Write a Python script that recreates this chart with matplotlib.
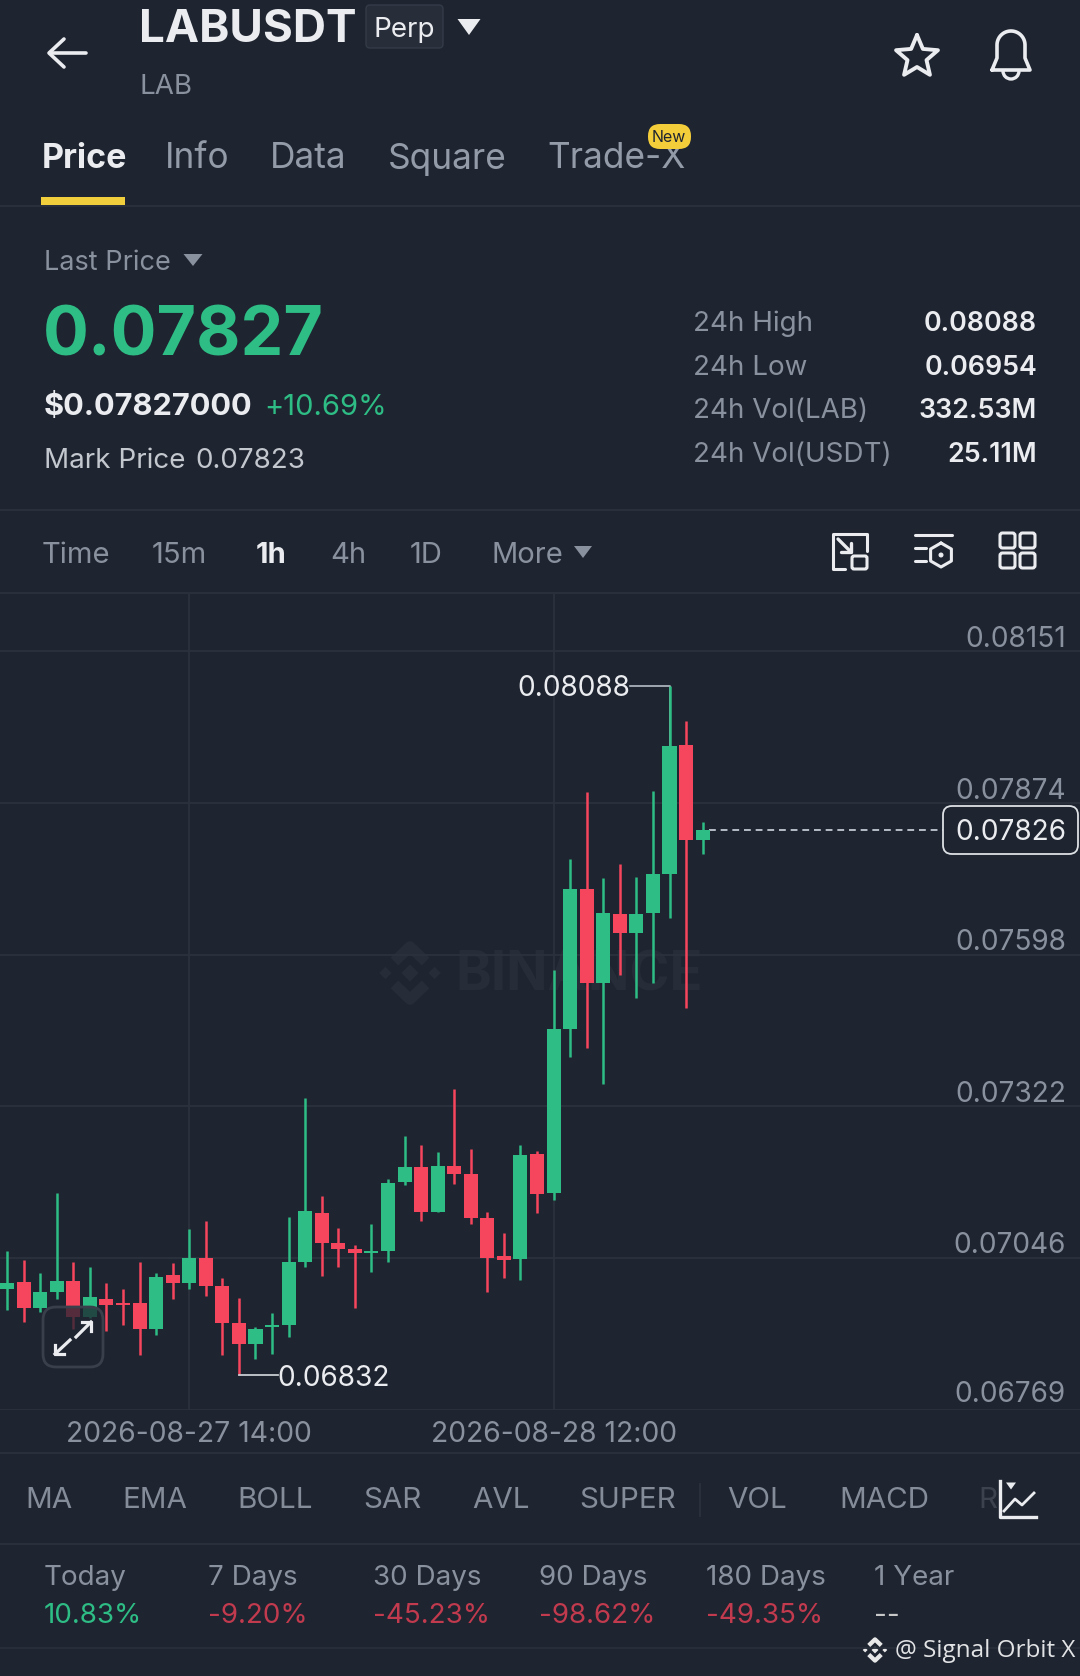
import numpy as np
import matplotlib
matplotlib.use("Agg")
import matplotlib.pyplot as plt
from matplotlib.patches import Rectangle, FancyBboxPatch, Polygon, Circle, Arc

plt.rcParams['font.family'] = ['Inter', 'DejaVu Sans']

# hourly candles
opens = [.06989, .07002, .06955, .06983, .07004, .06939, .06972, .06964, .06964, .06916, .07015,
         .07000, .07046, .06994, .06927, .06889, .06920, .06924, .07038, .07128, .07074, .07063,
         .07054, .07058, .07185, .07212, .07129, .07213, .07198, .07118, .07049, .07044, .07235,
         .07164, .07463, .07717, .07546, .07673, .07638, .07674, .07746, .07980, .07807]
closes = [.07001, .06955, .06984, .07004, .06938, .06974, .06961, .06960, .06917, .07011, .07000,
          .07046, .06994, .06927, .06890, .06916, .06923, .07038, .07132, .07074, .07063, .07054,
          .07059, .07183, .07212, .07130, .07213, .07198, .07118, .07046, .07043, .07234, .07162,
          .07462, .07717, .07546, .07674, .07638, .07673, .07746, .07979, .07807, .07826]
highs = [.07059, .07043, .07018, .07165, .07039, .07030, .07001, .06990, .07039, .07019, .07036,
         .07099, .07113, .07009, .06973, .06921, .06946, .07121, .07338, .07159, .07100, .07070,
         .07107, .07190, .07268, .07252, .07239, .07353, .07244, .07130, .07092, .07251, .07240,
         .07570, .07772, .07895, .07737, .07764, .07740, .07897, .08088, .08023, .07839]
lows = [.06952, .06929, .06948, .06971, .06916, .06936, .06913, .06924, .06869, .06905, .06972,
        .06989, .06977, .06869, .06832, .06862, .06871, .06902, .07029, .07013, .07029, .06954,
        .07021, .07039, .07179, .07114, .07129, .07181, .07107, .06983, .07010, .07006, .07127,
        .07151, .07411, .07428, .07363, .07561, .07519, .07546, .07665, .07501, .07781]

price_ticks = [0.08151, 0.07874, 0.07598, 0.07322, 0.07046, 0.06769]
time_idx = [11, 33]
time_labels = ['2026-08-27 14:00', '2026-08-28 12:00']
last_price = 0.07826
high_price = 0.08088
low_price = 0.06832
high_idx = 40
low_idx = 14

tabs = ['Price', 'Info', 'Data', 'Square', 'Trade-X']
tab_x = [42, 165, 270, 388, 547]
intervals = ['Time', '15m', '1h', '4h', '1D', 'More']
interval_x = [42, 152, 256, 330, 410, 491]
indicators = ['MA', 'EMA', 'BOLL', 'SAR', 'AVL', 'SUPER', 'VOL', 'MACD']
indicator_x = [25, 122, 237, 363, 472, 579, 727, 839]
stat_labels = ['24h High', '24h Low', '24h Vol(LAB)', '24h Vol(USDT)']
stat_values = ['0.08088', '0.06954', '332.53M', '25.11M']
stat_y = [321, 365, 408, 452]
perf_labels = ['Today', '7 Days', '30 Days', '90 Days', '180 Days', '1 Year']
perf_values = ['10.83%', '-9.20%', '-45.23%', '-98.62%', '-49.35%', '--']
perf_x = [44, 208, 373, 539, 706, 874]

BG = '#1E2430'
GREEN = '#2EBD85'
RED = '#F6465D'
GREY = '#8A919E'
LINE = '#2C323D'
WHITE = '#EAECEF'
W, H = 1080, 1676

fig = plt.figure(figsize=(W / 100, H / 100), dpi=100, facecolor=BG)

# faint exchange watermark sits behind the candles
bg = fig.add_axes([0, 0, 1, 1], facecolor='none', zorder=-1)
bg.set_xlim(0, W)
bg.set_ylim(H, 0)
bg.axis('off')

# price chart, full width
top, bottom = 594, 1410
ax = fig.add_axes([0, 1 - bottom / H, 1, (bottom - top) / H], facecolor='none', zorder=0)
ax.set_xlim((0 - 7.1) / 16.56, (W - 7.1) / 16.56)
ax.set_ylim(0.06769, 0.08255)
for s in ax.spines.values():
    s.set_visible(False)
ax.set_xticks(time_idx)
ax.set_yticks(price_ticks)
ax.tick_params(length=0, labelleft=False, labelbottom=False)
ax.grid(True, color=LINE, lw=1.3)
ax.set_axisbelow(True)

x = np.arange(len(opens))
o, c, hi, lo = map(np.array, (opens, closes, highs, lows))
cols = [GREEN if b >= a else RED for a, b in zip(o, c)]
ax.vlines(x, lo, hi, colors=cols, lw=1.8, zorder=3)
ax.bar(x, np.abs(c - o), bottom=np.minimum(o, c), width=0.85, color=cols, zorder=3)

for i, p in enumerate(price_ticks):
    ax.annotate(f'{p:.5f}', (1, p), xycoords=('axes fraction', 'data'), xytext=(-14, 15 if i == 5 else 12),
                textcoords='offset pixels', ha='right', va='center', color=GREY, fontsize=20.2, zorder=6)

# last price dashes and label
ax.plot([42.4, 56.5], [last_price, last_price], color='#B7BDC6', lw=1.4, ls=(0, (3.5, 2.5)), zorder=2)
ax.annotate(f'{last_price:.5f}', (1, last_price), xycoords=('axes fraction', 'data'), xytext=(-14, -3),
            textcoords='offset pixels', ha='right', va='center', color=WHITE, fontsize=20.2, zorder=8)

# high / low leaders
ax.plot([high_idx - 2.4, high_idx, high_idx], [high_price, high_price, closes[high_idx]], color='#B7BDC6', lw=1.2, zorder=2)
ax.plot([low_idx, low_idx + 2.35], [low_price, low_price], color='#C8CCD2', lw=1.3, zorder=4)
ax.annotate(f'{high_price:.5f}', (high_idx - 2.4, high_price), xytext=(0, -3), textcoords='offset pixels',
            ha='right', va='center', color=WHITE, fontsize=20.2, zorder=6)
ax.annotate(f'{low_price:.5f}', (low_idx + 2.35, low_price), xytext=(0, -3), textcoords='offset pixels',
            ha='left', va='center', color=WHITE, fontsize=20.2, zorder=6)

# overlay in pixel coordinates for the app furniture
ui = fig.add_axes([0, 0, 1, 1], facecolor='none', zorder=1)
ui.set_xlim(0, W)
ui.set_ylim(H, 0)
ui.axis('off')


def txt(px, py, s, size=20, color=GREY, ha='left', weight='normal', **kw):
    ui.text(px, py + 3, s, fontsize=size, color=color, ha=ha, va='center', weight=weight, **kw)


def hline(py, x0=0, x1=W, color=LINE, lw=1.3):
    ui.plot([x0, x1], [py, py], color=color, lw=lw, solid_capstyle='butt')


def stroke(xs, ys, color=WHITE, lw=2.4):
    ui.plot(xs, ys, color=color, lw=lw, solid_capstyle='round', solid_joinstyle='round')


def box(x0, y0, x1, y1, r=3, ec=WHITE, fc='none', lw=2.2, z=5):
    ui.add_patch(FancyBboxPatch((x0 + r, y0 + r), x1 - x0 - 2 * r, y1 - y0 - 2 * r,
                                boxstyle=f'round,pad={r},rounding_size={r}', ec=ec, fc=fc, lw=lw, zorder=z))


def tri(cx, cy, w, h, color=WHITE):
    ui.add_patch(Polygon([[cx - w / 2, cy - h / 2], [cx + w / 2, cy - h / 2], [cx, cy + h / 2]], fc=color, ec='none'))


def binance_mark(axis, cx, cy, s, color):
    for dx, k in [(0, .24), (-.82, .17), (.82, .17)]:
        pts = [[cx + dx * s, cy - k * 1.2 * s], [cx + (dx + k * 1.2) * s, cy],
               [cx + dx * s, cy + k * 1.2 * s], [cx + (dx - k * 1.2) * s, cy]]
        axis.add_patch(Polygon(pts, fc=color, ec='none', zorder=1))
    for sy in (-1, 1):
        axis.plot([cx - .52 * s, cx, cx + .52 * s], [cy + sy * .38 * s, cy + sy * .88 * s, cy + sy * .38 * s],
                  color=color, lw=s * .26, solid_capstyle='butt', zorder=1)


bg.text(455, 976, 'BINANCE', fontsize=39, color='#262C38', va='center', weight='bold')
binance_mark(bg, 410, 973, 30, '#262C38')

# header
stroke([86, 50], [53, 53], lw=2.6)
stroke([64, 49, 64], [39, 53, 67], lw=2.6)
txt(139, 27, 'LABUSDT', size=33, color=WHITE, weight='bold')
box(366, 5, 443, 48, r=4, ec='#343B48', fc='#272D39', lw=1)
txt(404, 27, 'Perp', size=20, color=WHITE, ha='center', zorder=6)
tri(469, 27, 23, 16)
txt(139, 84, 'LAB', size=20)
ang = np.linspace(np.pi / 2, np.pi / 2 + 2 * np.pi, 11)
rad = np.where(np.arange(11) % 2 == 0, 22, 10)
stroke(917 + rad * np.cos(ang), 57 - rad * np.sin(ang), lw=2.8)
t = np.linspace(np.pi, 0, 30)
bx = np.r_[992, 997, 1011 + 14 * np.cos(t), 1025, 1030, 992]
by = np.r_[70, 58, 45 - 14 * np.sin(t), 58, 70, 70]
stroke(bx, by, lw=2.6)
ui.add_patch(Arc((1011, 71), 16, 16, theta1=0, theta2=180, ec=WHITE, lw=2.4))

# tabs
for i, (s, px) in enumerate(zip(tabs, tab_x)):
    txt(px, 156, s, size=25.4 if i else 24.5, color=WHITE if i == 0 else '#949BA8', weight='bold' if i == 0 else 'normal')
ui.add_patch(Rectangle((41, 197), 84, 8, fc='#F0CE3C', ec='none', zorder=4))
hline(206)
box(648, 124, 691, 149, r=12, ec='none', fc='#F4CD3A', lw=0, z=7)
ui.text(669, 137, 'New', fontsize=11.5, color='#1E2430', ha='center', va='center', zorder=8)

# ticker block
txt(43, 335, '0.07827', size=49, color=GREEN, weight='bold')
txt(44, 260, 'Last Price', size=19.5)
tri(193, 260, 19, 12, GREY)
txt(44, 404, '$0.07827000', size=22.2, color=WHITE, weight='bold')
txt(264, 404, '+10.69%', size=21, color=GREEN)
txt(44, 458, 'Mark Price', size=20, color='#C3C7CE')
txt(195, 458, '0.07823', size=20, color='#C3C7CE')
for s, v, py in zip(stat_labels, stat_values, stat_y):
    txt(693, py, s, size=20)
    txt(1037, py, v, size=19.3, color=WHITE, ha='right', weight='semibold')
hline(510)

# interval bar
for s, px in zip(intervals, interval_x):
    txt(px, 552, s, size=21, color=WHITE if s == '1h' else GREY, weight='bold' if s == '1h' else 'normal')
tri(583, 552, 18, 12, GREY)
hline(593)
# interval bar icons
stroke([845, 833, 833, 867, 867], [569, 569, 534, 534, 551], lw=2.2)
box(852, 556, 867, 569, r=2)
stroke([838, 851], [539, 552], lw=2.4)
stroke([841, 851, 851], [552, 552, 543], lw=2.4)
stroke([915, 952], [535, 535], lw=2.2)
stroke([915, 926], [548, 548], lw=2.2)
stroke([915, 926], [561, 561], lw=2.2)
a = np.linspace(np.pi / 2, np.pi / 2 + 2 * np.pi, 7)
stroke(941 + 12 * np.cos(a), 555 - 12 * np.sin(a), lw=2.2)
ui.add_patch(Circle((941, 555), 2.5, fc=WHITE, ec='none'))
for bx0, by0 in [(1000, 533), (1020, 533), (1000, 553), (1020, 553)]:
    box(bx0, by0, bx0 + 15, by0 + 15, r=2.5)

# last price box and expand button on top of the chart
box(943, 806, 1078, 854, r=9, ec='#DDE0E4', fc='none', lw=1.3, z=7)
box(43, 1307, 103, 1367, r=13, ec='#3A404B', fc=(0.118, 0.141, 0.188, 0.75), lw=2, z=7)
for xs, ys in [([76, 91], [1337, 1322]), ([82, 91, 91], [1322, 1322, 1331]),
               ([70, 55], [1340, 1354]), ([55, 55, 64], [1345, 1354, 1354])]:
    ui.plot(xs, ys, color=WHITE, lw=2.3, zorder=8)

# time axis
for i, s in zip(time_idx, time_labels):
    txt(7.1 + 16.56 * i, 1431, s, size=20.4, ha='center')
hline(1453)

# indicator row
for s, px in zip(indicators, indicator_x):
    txt(px, 1497, s, size=21.3, color='#858C99')
txt(978, 1497, 'R', size=21.3, color='#3D434E')
ui.plot([700, 700], [1484, 1516], color=LINE, lw=1.3)
ui.plot([1000, 1000, 1036], [1481, 1517, 1517], color=WHITE, lw=2.4, zorder=5)
ui.plot([1004, 1015, 1022, 1034], [1511, 1499, 1505, 1493], color=WHITE, lw=2, zorder=5)
tri(1011, 1486, 10, 7)
hline(1544)

# performance row
for s, v, px in zip(perf_labels, perf_values, perf_x):
    txt(px, 1575, s, size=20)
    col = GREEN if v.startswith('1') else ('#C8C8C8' if v == '--' else '#C23A4E')
    txt(px, 1613, v, size=20, color=col)
hline(1648, color='#2A303B')

# repost credit
binance_mark(ui, 875, 1650, 12, '#E8E8E8')
txt(895, 1648, '@ Signal Orbit X', size=17.5, color='#E2E3E5', family=['Open Sans', 'DejaVu Sans'], zorder=9)

fig.savefig('out.png', dpi=100, facecolor=BG)
